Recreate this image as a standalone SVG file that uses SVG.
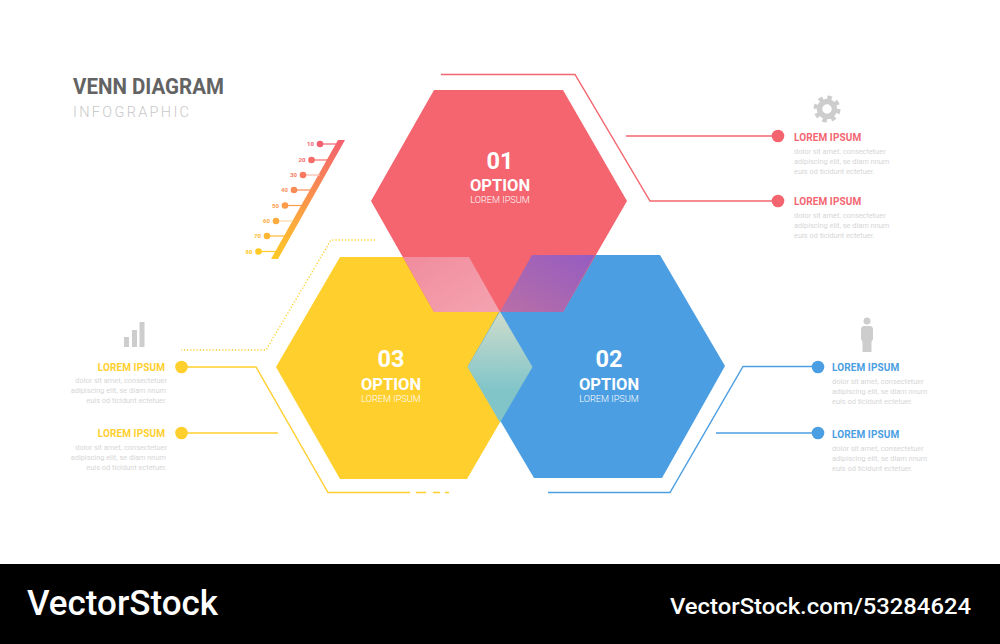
<svg xmlns="http://www.w3.org/2000/svg" width="1000" height="644" viewBox="0 0 1000 644">
<style>
text{font-family:"Roboto","Noto Sans","Liberation Sans",sans-serif}
.c{fill:none;stroke-width:1.4}
.r{stroke:#f4656f}.y{stroke:#ffcf2d}.b{stroke:#4b9ee2}
.n{fill:#fff;text-anchor:middle;font-weight:700}
.num{font-size:23.500px}.opt{font-size:16.500px}.sub{font-size:9.200px;font-weight:300}
.h{font-size:10px;font-weight:700;letter-spacing:.1px}
.d{font-size:7.400px;fill:#d6d6d6}
.t{font-size:6px;font-weight:700;text-anchor:end}
.e{text-anchor:end}
.ic{fill:#cdcdcd}
.f{font-family:"Roboto","Liberation Sans",sans-serif;font-weight:500;fill:#fff}
</style>
<defs>
<linearGradient id="bar" gradientUnits="userSpaceOnUse" x1="341" y1="140" x2="275" y2="259"><stop offset="0" stop-color="#f4606f"/><stop offset="1" stop-color="#ffc926"/></linearGradient>
<linearGradient id="dia" x1="0" y1="0" x2="0" y2="1"><stop offset="0" stop-color="#cfdccb"/><stop offset=".7" stop-color="#82c5c9"/><stop offset="1" stop-color="#82c5c9"/></linearGradient>
<linearGradient id="pur" x1="0" y1="1" x2="1" y2="0"><stop offset="0" stop-color="#b86fa6"/><stop offset="1" stop-color="#955cc2"/></linearGradient>
<linearGradient id="pin" x1="0" y1="0" x2="1" y2="1"><stop offset="0" stop-color="#f08c9e"/><stop offset="1" stop-color="#f5a3b0"/></linearGradient>
</defs>
<rect width="1000" height="644" fill="#fff"/>
<g id="title">
<text x="73" y="94" font-size="22" font-weight="700" fill="#636363" textLength="151" lengthAdjust="spacingAndGlyphs">VENN DIAGRAM</text>
<text x="73" y="117" font-size="14.500" font-weight="300" fill="#c8c8c8" textLength="116">INFOGRAPHIC</text>
</g>
<g id="scale">
<polygon points="338,140 345,140 278,259 271,259" fill="url(#bar)"/>
<g stroke-width="1.200">
<path d="M320 144H337" stroke="#f4606f"/><path d="M311.500 160H328" stroke="#f56b68"/><path d="M303 175H320" stroke="#fbb9a8"/><path d="M294 190H311" stroke="#fa8d55"/><path d="M285 205.500H302" stroke="#fc9c4a"/><path d="M276 221H293" stroke="#fed9a0"/><path d="M267 236H285" stroke="#feb733"/><path d="M258.500 251.500H276" stroke="#ffc926"/>
</g>
<circle cx="320" cy="144" r="3.300" fill="#f4606f"/><circle cx="311.500" cy="160" r="3.300" fill="#f56b68"/><circle cx="303" cy="175" r="3.300" fill="#f8795f"/><circle cx="294" cy="190" r="3.300" fill="#fa8d55"/><circle cx="285" cy="205.500" r="3.300" fill="#fc9c4a"/><circle cx="276" cy="221" r="3.300" fill="#fdab3e"/><circle cx="267" cy="236" r="3.300" fill="#feb733"/><circle cx="258.500" cy="251.500" r="3.300" fill="#ffc926"/>
<text class="t" x="314" y="146.200" fill="#f4606f">10</text><text class="t" x="305.500" y="162" fill="#f56b68">20</text><text class="t" x="297" y="177.200" fill="#f8795f">30</text><text class="t" x="288" y="192.200" fill="#fa8d55">40</text><text class="t" x="279" y="207.700" fill="#fc9c4a">50</text><text class="t" x="270" y="223.200" fill="#fdab3e">60</text><text class="t" x="261" y="238.200" fill="#feb733">70</text><text class="t" x="252.500" y="253.700" fill="#ffc926">80</text>
</g>
<g id="connectors">
<path class="c r" d="M441 74.500H575L650 201H778"/>
<path class="c r" d="M626 136H778"/>
<path class="c y" stroke-width="1" stroke-dasharray="1.200 2" d="M375 240H331L266 350H181"/>
<path class="c y" d="M181 367H256L328 492.500H410"/>
<path class="c y" d="M416 492.500H426M433 492.500H440M445 492.500H449"/>
<path class="c y" d="M181 433H278"/>
<path class="c b" d="M548 492.500H670L743 366.500H818"/>
<path class="c b" d="M716 433H818"/>
<circle cx="778" cy="136" r="6.300" fill="#f4656f"/><circle cx="778" cy="201" r="6.300" fill="#f4656f"/>
<circle cx="181.500" cy="367" r="6.300" fill="#ffcf2d"/><circle cx="181.500" cy="433" r="6.300" fill="#ffcf2d"/>
<circle cx="818" cy="367" r="6.300" fill="#4b9ee2"/><circle cx="818" cy="433" r="6.300" fill="#4b9ee2"/>
</g>
<g id="node-03">
<polygon points="340,257 467,257 532,367 467,479 340,479 276,367" fill="#ffcf2d"/>
</g>
<g id="node-02">
<polygon points="532,255 660,255 725,366 662,478 534,478 468,366" fill="#4b9ee2"/>
</g>
<g id="node-01">
<polygon points="434,90 563,90 627,201 563,312 434,312 371,201" fill="#f4656f"/>
</g>
<g id="overlaps">
<polygon points="403,257 469,257 500,312 434,312" fill="url(#pin)"/>
<polygon points="532,255 595,255 563,312 500,312" fill="url(#pur)"/>
<polygon points="500,311.500 532.500,367 500,422.500 467.500,367" fill="url(#dia)"/>
</g>
<g id="node-01-label">
<text class="n num" x="500" y="168.500">01</text><text class="n opt" x="500" y="190.500">OPTION</text><text class="n sub" x="500" y="203">LOREM IPSUM</text>
</g>
<g id="node-03-label">
<text class="n num" x="391" y="366.500">03</text><text class="n opt" x="391" y="389.500">OPTION</text><text class="n sub" x="391" y="402">LOREM IPSUM</text>
</g>
<g id="node-02-label">
<text class="n num" x="609" y="366.500">02</text><text class="n opt" x="609" y="389.500">OPTION</text><text class="n sub" x="609" y="402">LOREM IPSUM</text>
</g>
<g id="item-red-1">
<text class="h" x="794" y="141" fill="#f4656f">LOREM IPSUM</text>
<text class="d" x="794" y="154">dolor sit amet, consectetuer</text><text class="d" x="794" y="164">adipiscing elit, se diam nnum</text><text class="d" x="794" y="174">euis od ticidunt ectetuer.</text>
</g>
<g id="item-red-2">
<text class="h" x="794" y="205" fill="#f4656f">LOREM IPSUM</text>
<text class="d" x="794" y="218">dolor sit amet, consectetuer</text><text class="d" x="794" y="228">adipiscing elit, se diam nnum</text><text class="d" x="794" y="238">euis od ticidunt ectetuer.</text>
</g>
<g id="item-blue-1">
<text class="h" x="832" y="371" fill="#4b9ee2">LOREM IPSUM</text>
<text class="d" x="832" y="384">dolor sit amet, consectetuer</text><text class="d" x="832" y="394">adipiscing elit, se diam nnum</text><text class="d" x="832" y="404">euis od ticidunt ectetuer.</text>
</g>
<g id="item-blue-2">
<text class="h" x="832" y="437.500" fill="#4b9ee2">LOREM IPSUM</text>
<text class="d" x="832" y="451">dolor sit amet, consectetuer</text><text class="d" x="832" y="461">adipiscing elit, se diam nnum</text><text class="d" x="832" y="471">euis od ticidunt ectetuer.</text>
</g>
<g id="item-yellow-1">
<text class="h e" x="165" y="370.500" fill="#ffcf2d">LOREM IPSUM</text>
<text class="d e" x="167" y="383">dolor sit amet, consectetuer</text><text class="d e" x="166" y="393">adipiscing elit, se diam nnum</text><text class="d e" x="167" y="403">euis od ticidunt ectetuer.</text>
</g>
<g id="item-yellow-2">
<text class="h e" x="165" y="437" fill="#ffcf2d">LOREM IPSUM</text>
<text class="d e" x="167" y="450">dolor sit amet, consectetuer</text><text class="d e" x="166" y="460">adipiscing elit, se diam nnum</text><text class="d e" x="167" y="470">euis od ticidunt ectetuer.</text>
</g>
<g id="icon-gear">
<circle cx="827" cy="109" r="7.500" fill="none" stroke="#cdcdcd" stroke-width="5.500"/>
<circle cx="827" cy="109" r="11.500" fill="none" stroke="#cdcdcd" stroke-width="4" stroke-dasharray="4.500 4.530"/>
</g>
<g id="icon-person">
<circle class="ic" cx="867" cy="321" r="3.500"/>
<path class="ic" d="M864 326H870Q873 326 873 330V339L871.500 342V352H862.500V342L861 339V330Q861 326 864 326Z"/>
</g>
<g id="icon-bars">
<rect class="ic" x="124" y="337" width="5" height="10"/><rect class="ic" x="132" y="330" width="5" height="17"/><rect class="ic" x="139.500" y="322" width="5" height="25"/>
</g>
<g id="footer">
<rect y="564" width="1000" height="80" fill="#000"/>
<text class="f" x="27" y="615" font-size="35" textLength="191" lengthAdjust="spacingAndGlyphs">VectorStock</text>
<text class="f" x="670" y="614" font-size="22.500" textLength="301" lengthAdjust="spacingAndGlyphs">VectorStock.com/53284624</text>
</g>
</svg>
